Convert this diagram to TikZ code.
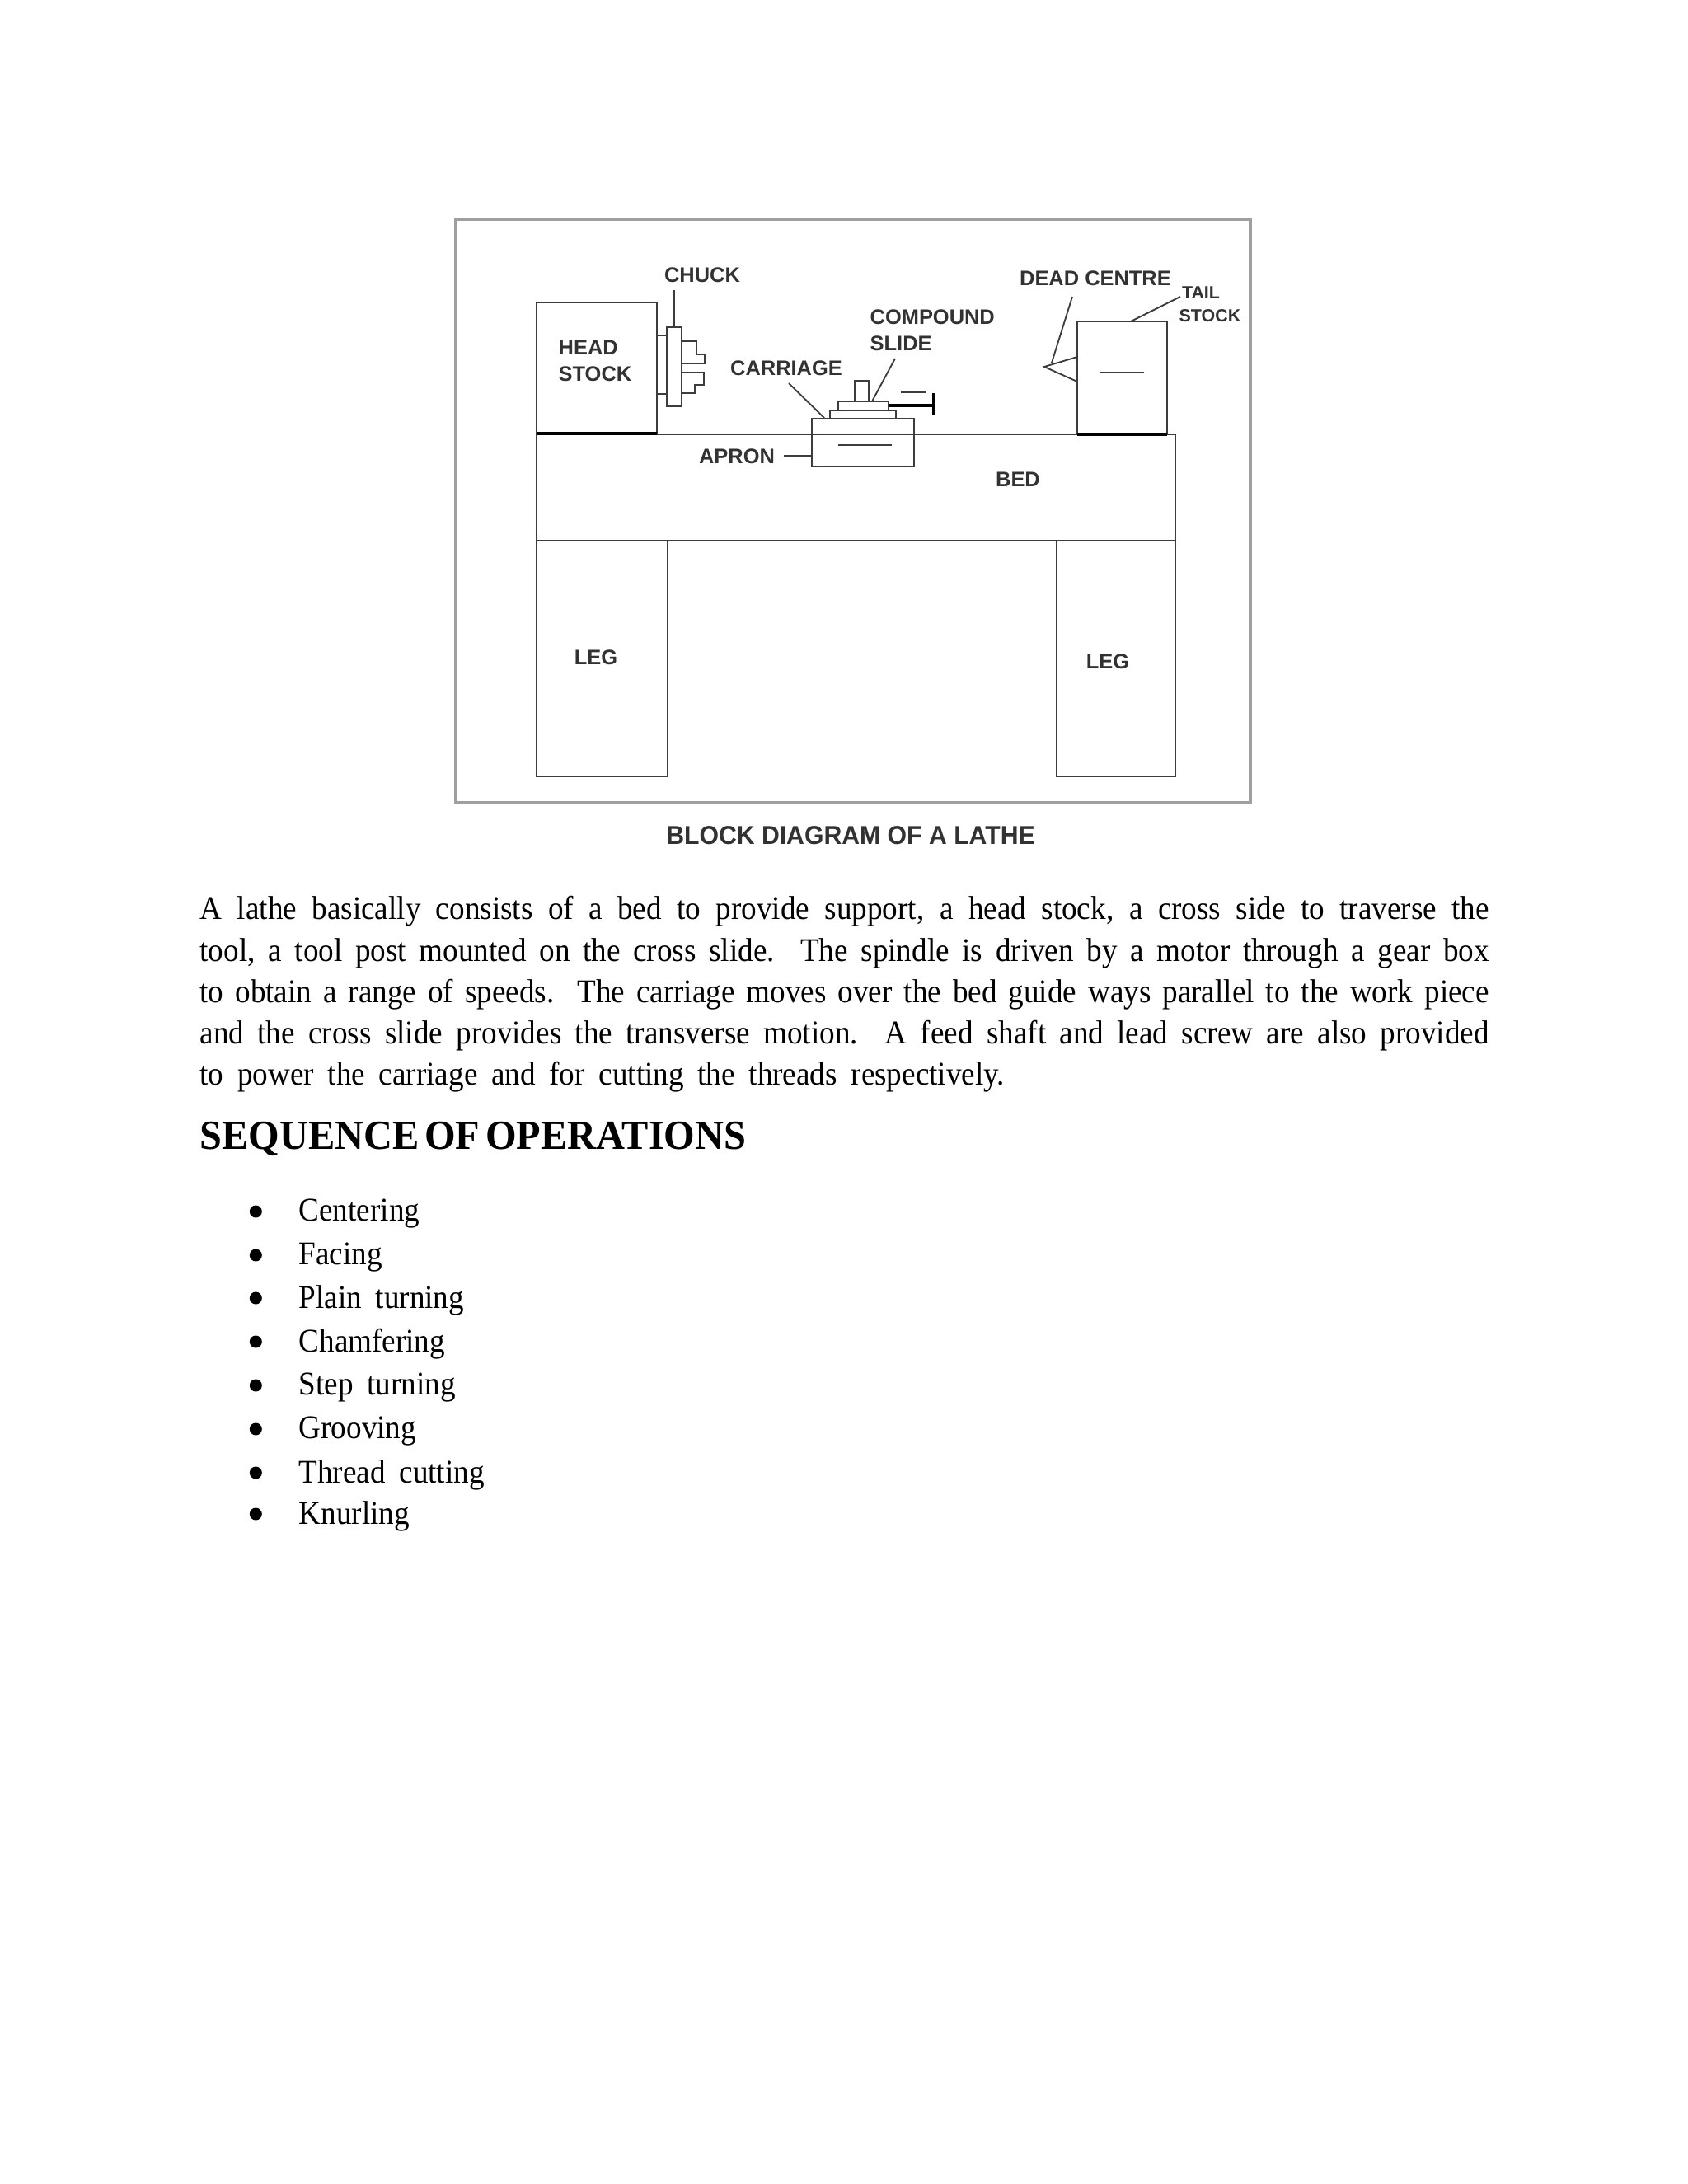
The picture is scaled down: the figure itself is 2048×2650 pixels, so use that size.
\documentclass[tikz,border=0pt]{standalone}
\usepackage{fontspec}
\setmainfont[FakeStretch=0.925, WordSpace=1.8]{Liberation Serif}
\setsansfont{Liberation Sans}
\newfontfamily\headfont[FakeStretch=0.963, WordSpace=0.56]{Liberation Serif}
\newfontfamily\capfont[FakeStretch=0.96]{Liberation Sans}
\usetikzlibrary{positioning}
\definecolor{lineink}{RGB}{60, 60, 60}
\definecolor{labelink}{RGB}{50, 50, 50}
\def\pxu{0.2988pt}

\begin{document}
\begin{tikzpicture}[x=0.2988pt, y=-0.2988pt,
		part/.style 2 args={draw=lineink, line width=0.7pt, minimum width=#1*\pxu, minimum height=#2*\pxu, inner sep=0pt, outer sep=0pt},
		leader/.style={draw=lineink, line width=0.55pt},
		tag/.style={font=\sffamily\bfseries\fontsize{7.6}{9.6}\selectfont, text=labelink, inner sep=0pt, align=left},
		bodytext/.style={inner sep=0pt, font=\fontsize{12}{15}\selectfont, text=black},
		font=\fontsize{12}{15}\selectfont]
	\useasboundingbox (0,0) rectangle (2048,2650);
	% Rahmen
	\node[part={964}{708}, draw=gray!75, line width=1pt] (frame) at (1035,620) {};
	% Bett und Beine
	\node[part={775}{129}] (bed) at (1038.5,591.5) {};
	\node[part={159}{286}] (legl) at (730.5,799) {};
	\node[part={144}{286}] (legr) at (1354,799) {};
	% Spindelstock und Futter
	\node[part={146}{159}] (headstock) at (724,446.5) {};
	\node[part={18}{96}] (chuck) at (818,445) {};
	\draw[leader] (chuck.west |- 0,407) coordinate (cha) -- (headstock.east |- cha);
	\draw[leader] (chuck.west |- 0,478) coordinate (chb) -- (headstock.east |- chb);
	\draw[leader] (chuck.east |- 0,414) -- ++(18,0) -- ++(0,16) -- ++(10,0) -- ++(0,11) -- (chuck.east |- 0,441);
	\draw[leader] (chuck.east |- 0,452) -- ++(27,0) -- ++(0,15) -- ++(-11,0) -- ++(0,10) -- (chuck.east |- 0,477);
	% Schlitten
	\node[part={124}{58}] (apronbox) at (1047,537) {};
	\node[part={80}{10}] (saddle) at (1047,503) {};
	\node[part={61}{11}] (slidebox) at (1047.5,492.5) {};
	\node[part={17}{25}] (toolpost) at (1045.5,474.5) {};
	\coordinate (handle) at (1133,492);
	\draw[line width=1.1pt, black] (slidebox.east |- handle) -- (handle);
	\draw[line width=1.1pt, black] (1133,477) -- (1133,503);
	\draw[leader] (1093,476) -- (1123,476);
	\draw[leader] (1017,540) -- (1082,540);
	% Reitstock
	\node[part={109}{137}] (tailstock) at (1361.5,458.5) {};
	\draw[leader] (1334,452) -- (1388,452);
	% dicke Auflagekanten
	\draw[line width=1.1pt, black] (headstock.south west) -- (headstock.south east);
	\draw[line width=1.1pt, black] (tailstock.south west) -- (tailstock.south east);
	% Beschriftung
	\node[tag, anchor=west] (headlbl) at (677,438) {HEAD\\STOCK};
	\node[tag] (chucklbl) at (852,334) {CHUCK};
	\node[tag] (carriagelbl) at (954,447) {CARRIAGE};
	\node[tag] (apronlbl) at (894,554) {APRON};
	\node[tag, anchor=west] (compoundlbl) at (1055,401) {COMPOUND\\SLIDE};
	\node[tag] (deadlbl) at (1329,338) {DEAD CENTRE};
	\node[tag, anchor=west, font=\sffamily\bfseries\fontsize{6.4}{8.4}\selectfont] (taillbl) at (1430,369) {\kern1pt TAIL\\STOCK};
	\node[tag] (bedlbl) at (1235,582) {BED};
	\node[tag] (leglbll) at (723,798) {LEG};
	\node[tag] (leglblr) at (1344,803) {LEG};
	\node[tag, font=\capfont\bfseries\fontsize{9.4}{11}\selectfont] (caption) at (1032,1014) {BLOCK DIAGRAM OF A LATHE};
	% Hinweislinien
	\coordinate (tipdead) at (1267,445);
	\draw[leader] (chuck.north) -- (chuck.north |- 0,352);
	\draw[leader] (apronbox.west |- 0,553) -- (951,553);
	\draw[leader] (957,465) -- (1000,507);
	\draw[leader] (1086,435) -- (1058,487);
	\draw[leader] (1301,360) -- (1276,440);
	\draw[leader] (tailstock.west |- 0,433) -- (tipdead) -- (tailstock.west |- 0,463);
	\draw[leader] (1372,390) -- (1432,360);
	% Fliesstext
	\node[bodytext, anchor=north west, text width=1564*\pxu, align=justify] (para) at (242,1087) {%
		A lathe basically consists of a bed to provide support, a head stock, a cross side to traverse the\linebreak
		tool, a tool post mounted on the cross slide.\ \ The spindle is driven by a motor through a gear box\linebreak
		to obtain a range of speeds.\ \ The carriage moves over the bed guide ways parallel to the work piece\linebreak
		and the cross slide provides the transverse motion.\ \ A feed shaft and lead screw are also provided\linebreak
		to power the carriage and for cutting the threads respectively.};
	\node[anchor=base west, inner sep=0pt, font=\headfont\bfseries\fontsize{15}{17}\selectfont] (heading) at (242,1394) {SEQUENCE OF OPERATIONS};
	% Liste
	\foreach \i/\ypos/\op in {1/1473/Centering, 2/1526/Facing, 3/1578/Plain turning, 4/1631/Chamfering, 5/1684/Step turning, 6/1737/Grooving, 7/1790/Thread cutting, 8/1840/Knurling} {
		\node[bodytext, anchor=west] (op\i) at (362,\ypos) {\op};
		\node[circle, fill=black, minimum size=15*\pxu, inner sep=0pt, left=43.5*\pxu of op\i, yshift=3*\pxu] (dot\i) {};
	}
\end{tikzpicture}
\end{document}
